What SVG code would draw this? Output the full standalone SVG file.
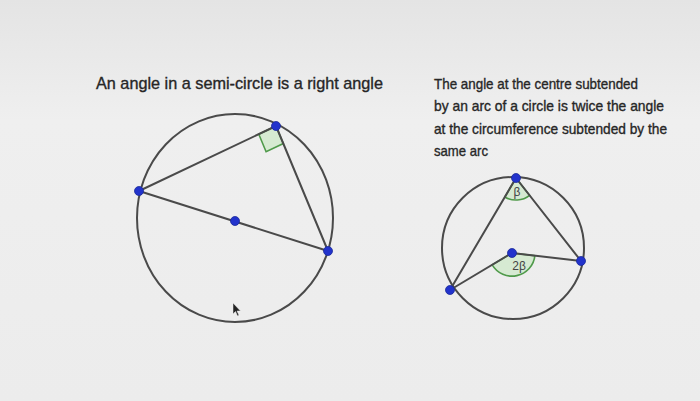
<svg xmlns="http://www.w3.org/2000/svg" width="700" height="401" viewBox="0 0 700 401">
<defs>
<linearGradient id="bg" x1="0" y1="0" x2="0" y2="1">
<stop offset="0" stop-color="#e4e4e4"/>
<stop offset="0.3" stop-color="#efefef"/>
<stop offset="1" stop-color="#ececec"/>
</linearGradient>
<style>
.ln{stroke:#4a4a4a;stroke-width:2;fill:none;stroke-linecap:round}
.pt{fill:#2233cc;stroke:#1a2a99;stroke-width:0.8}
.ang{fill:#d6ead2;stroke:#4f9a4a;stroke-width:1.6}
.t{font-family:"Liberation Sans",Arial,sans-serif;fill:#262626;stroke:#262626;stroke-width:0.35}
.lbl{font-family:"Liberation Sans",Arial,sans-serif;fill:#444;font-size:12px}
</style>
</defs>
<rect width="700" height="401" fill="url(#bg)"/>
<text class="t" x="96" y="89" font-size="17" textLength="287" lengthAdjust="spacingAndGlyphs">An angle in a semi-circle is a right angle</text>
<g id="desc" class="t" font-size="15">
<text x="434" y="88.5" textLength="204" lengthAdjust="spacingAndGlyphs">The angle at the centre subtended</text>
<text x="434" y="111" textLength="230" lengthAdjust="spacingAndGlyphs">by an arc of a circle is twice the angle</text>
<text x="434" y="133.5" textLength="233" lengthAdjust="spacingAndGlyphs">at the circumference subtended by the</text>
<text x="434" y="156" textLength="54" lengthAdjust="spacingAndGlyphs">same arc</text>
</g>
<g id="left-figure">
<ellipse class="ln" cx="235" cy="218" rx="98" ry="104"/>
<polygon id="right-angle" class="ang" points="276,126 258.8,134.2 266.1,151.7 283.3,143.5"/>
<g id="connectors-left">
<line class="ln" x1="139" y1="191" x2="276" y2="126"/>
<line class="ln" x1="276" y1="126" x2="328" y2="251"/>
<line class="ln" x1="139" y1="191" x2="328" y2="251"/>
</g>
<circle class="pt" cx="139" cy="191" r="4.5"/>
<circle class="pt" cx="276" cy="126" r="4.5"/>
<circle class="pt" cx="328" cy="251" r="4.5"/>
<circle class="pt" cx="235" cy="221" r="4.5"/>
</g>
<g id="right-figure">
<circle class="ln" cx="513" cy="248" r="71"/>
<path class="ang" d="M516,178 L504.8,197 A22,22 0 0 0 529.6,195.3 Z"/>
<path class="ang" d="M512,253 L492.2,264.8 A23,23 0 0 0 534.9,255.6 Z"/>
<text class="lbl" x="517" y="196" text-anchor="middle">β</text>
<text class="lbl" x="519" y="270" text-anchor="middle">2β</text>
<g id="connectors-right">
<line class="ln" x1="516" y1="178" x2="450" y2="290"/>
<line class="ln" x1="516" y1="178" x2="581" y2="261"/>
<line class="ln" x1="512" y1="253" x2="450" y2="290"/>
<line class="ln" x1="512" y1="253" x2="581" y2="261"/>
</g>
<circle class="pt" cx="516" cy="178" r="4.5"/>
<circle class="pt" cx="512" cy="253" r="4.5"/>
<circle class="pt" cx="581" cy="261" r="4.5"/>
<circle class="pt" cx="450" cy="290" r="4.5"/>
</g>
<path id="cursor" d="M233,303 L233,314 L235.5,311.5 L237.5,316 L239,315.3 L237,311 L240.5,311 Z" fill="#222" stroke="#eee" stroke-width="0.5"/>
</svg>
